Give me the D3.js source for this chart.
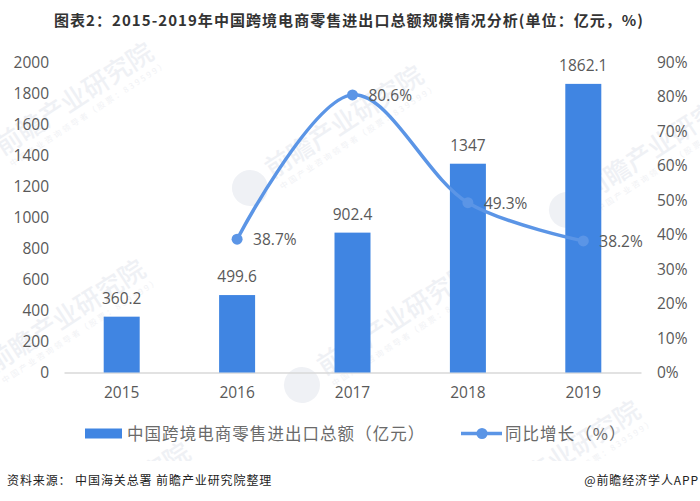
<!DOCTYPE html>
<html>
<head>
<meta charset="utf-8">
<script src="https://cdn.jsdelivr.net/npm/d3@7"></script>
<style>
  html, body { margin: 0; padding: 0; background: #fff; }
  text { font-family: "Open Sans", "Noto Sans CJK SC", sans-serif; fill: #595959; }
  .cjk { font-family: "Noto Sans CJK SC", sans-serif; }
</style>
</head>
<body>
<div id="chart"></div>
<script>
const years = ['2015', '2016', '2017', '2018', '2019'];
const amounts = [360.2, 499.6, 902.4, 1347, 1862.1];
const growthYears = ['2016', '2017', '2018', '2019'];
const growth = [38.7, 80.6, 49.3, 38.2];
const leftTicks = [0, 200, 400, 600, 800, 1000, 1200, 1400, 1600, 1800, 2000];
const rightTicks = [0, 10, 20, 30, 40, 50, 60, 70, 80, 90];
// full-width punctuation written as escapes
const titleText = '图表2\uFF1A2015-2019年中国跨境电商零售进出口总额规模情况分析(单位\uFF1A亿元\uFF0C%)';
const barName = '中国跨境电商零售进出口总额\uFF08亿元\uFF09';
const lineName = '同比增长\uFF08%\uFF09';
const sourceText = '资料来源\uFF1A 中国海关总署 前瞻产业研究院整理';
const creditText = '@前瞻经济学人APP';
const wmName = '前瞻产业研究院';
const wmSub = '中国产业咨询领导者\uFF08股票\uFF1A839599\uFF09';
const markColor = '#4085e2';
const lineColor = '#5b95e6';

const width = 700, height = 501;
const margin = { top: 62.5, right: 59, bottom: 128.5, left: 64 };
const plotW = width - margin.left - margin.right;
const plotH = height - margin.top - margin.bottom;

const svg = d3.select('#chart').append('svg')
  .attr('width', width).attr('height', height)
  .style('display', 'block');

// faint watermark goes underneath everything
const marks = [[-20, 165], [250, 188], [-28, 382], [302, 385], [567, 210], [467, 523], [17, 565]];
const wm = svg.append('g').attr('class', 'watermark');
marks.forEach(function(m) {
  const g = wm.append('g').attr('transform', 'translate(' + m[0] + ',' + m[1] + ') rotate(-33)');
  g.append('circle').attr('r', 18).attr('fill', '#eff1f5');
  g.append('text').attr('class', 'cjk').attr('x', 24).attr('y', 5)
    .style('font-size', '26px').style('font-weight', 500).style('fill', '#eff1f5')
    .text(wmName);
  g.append('text').attr('class', 'cjk').attr('x', 26).attr('y', 19)
    .style('font-size', '8px').style('letter-spacing', '2.4px').style('fill', '#f1f2f5')
    .text(wmSub);
});

const x = d3.scaleBand().domain(years).range([0, plotW]).padding(0);
const y = d3.scaleLinear().domain([0, 2000]).range([plotH, 0]);
const yRight = d3.scaleLinear().domain([0, 90]).range([plotH, 0]);

const chart = svg.append('g').attr('transform', 'translate(' + margin.left + ',' + margin.top + ')');

// axes
const xAxis = chart.append('g').attr('transform', 'translate(0,' + plotH + ')')
  .call(d3.axisBottom(x).tickSize(0).tickPadding(14));
xAxis.select('.domain').attr('stroke', '#d9d9d9').attr('stroke-width', 1.5);
xAxis.selectAll('text').style('font-size', '15.5px');

const yAxis = chart.append('g').call(d3.axisLeft(y).tickValues(leftTicks).tickFormat(d3.format('d')).tickSize(0).tickPadding(15));
yAxis.select('.domain').remove();
yAxis.selectAll('text').style('font-size', '15.5px');

const yAxisR = chart.append('g').attr('transform', 'translate(' + plotW + ',0)')
  .call(d3.axisRight(yRight).tickValues(rightTicks).tickFormat(d => d + '%').tickSize(0).tickPadding(16));
yAxisR.select('.domain').remove();
yAxisR.selectAll('text').style('font-size', '15.5px');

// bars
const barW = 36;
const cx = d => x(d) + x.bandwidth() / 2;
chart.selectAll('.bar').data(years).enter().append('rect')
  .attr('class', 'bar')
  .attr('x', d => cx(d) - barW / 2)
  .attr('width', barW)
  .attr('y', (d, i) => y(amounts[i]))
  .attr('height', (d, i) => plotH - y(amounts[i]))
  .attr('fill', markColor);

chart.selectAll('.barLabel').data(years).enter().append('text')
  .attr('class', 'barLabel')
  .attr('x', cx)
  .attr('y', (d, i) => y(amounts[i]) - 13)
  .attr('text-anchor', 'middle')
  .style('font-size', '15.5px')
  .text((d, i) => amounts[i]);

// growth line
const line = d3.line()
  .x(d => cx(d))
  .y((d, i) => yRight(growth[i]))
  .curve(d3.curveCatmullRom.alpha(0.5));

chart.append('path').datum(growthYears)
  .attr('d', line)
  .attr('fill', 'none')
  .attr('stroke', lineColor)
  .attr('stroke-width', 3.5);

chart.selectAll('.dot').data(growthYears).enter().append('circle')
  .attr('class', 'dot')
  .attr('cx', cx)
  .attr('cy', (d, i) => yRight(growth[i]))
  .attr('r', 5.5)
  .attr('fill', lineColor);

chart.selectAll('.lineLabel').data(growthYears).enter().append('text')
  .attr('class', 'lineLabel')
  .attr('x', d => cx(d) + 16)
  .attr('y', (d, i) => yRight(growth[i]) + 6)
  .style('font-size', '15.5px')
  .text((d, i) => growth[i].toFixed(1) + '%');

// title
svg.append('text').attr('class', 'cjk')
  .attr('x', 54).attr('y', 26)
  .style('font-size', '15px').style('font-weight', 700).style('fill', '#333')
  .style('letter-spacing', '1.05px')
  .text(titleText);

// legend
const legendY = 433.5;
svg.append('rect').attr('x', 85).attr('y', legendY - 5).attr('width', 37).attr('height', 10).attr('fill', markColor);
svg.append('text').attr('class', 'cjk')
  .attr('x', 127).attr('y', legendY + 6)
  .style('font-size', '16.5px').style('letter-spacing', '1.05px').style('fill', '#6a6a6a')
  .text(barName);
svg.append('line').attr('x1', 461).attr('x2', 502).attr('y1', legendY).attr('y2', legendY)
  .attr('stroke', lineColor).attr('stroke-width', 3.5);
svg.append('circle').attr('cx', 482).attr('cy', legendY).attr('r', 5.5).attr('fill', lineColor);
svg.append('text').attr('class', 'cjk')
  .attr('x', 505).attr('y', legendY + 6)
  .style('font-size', '16.5px').style('letter-spacing', '1.05px').style('fill', '#6a6a6a')
  .text(lineName);

// footer
svg.append('rect').attr('x', 0).attr('y', 461).attr('width', width).attr('height', 40).attr('fill', '#fff');
svg.append('text').attr('class', 'cjk')
  .attr('x', 7).attr('y', 485)
  .style('font-size', '12px').style('fill', '#222').style('letter-spacing', '0.9px')
  .text(sourceText);
svg.append('text').attr('class', 'cjk')
  .attr('x', 699).attr('y', 485)
  .attr('text-anchor', 'end')
  .style('font-size', '12px').style('fill', '#222').style('letter-spacing', '0.9px')
  .text(creditText);
</script>
</body>
</html>
